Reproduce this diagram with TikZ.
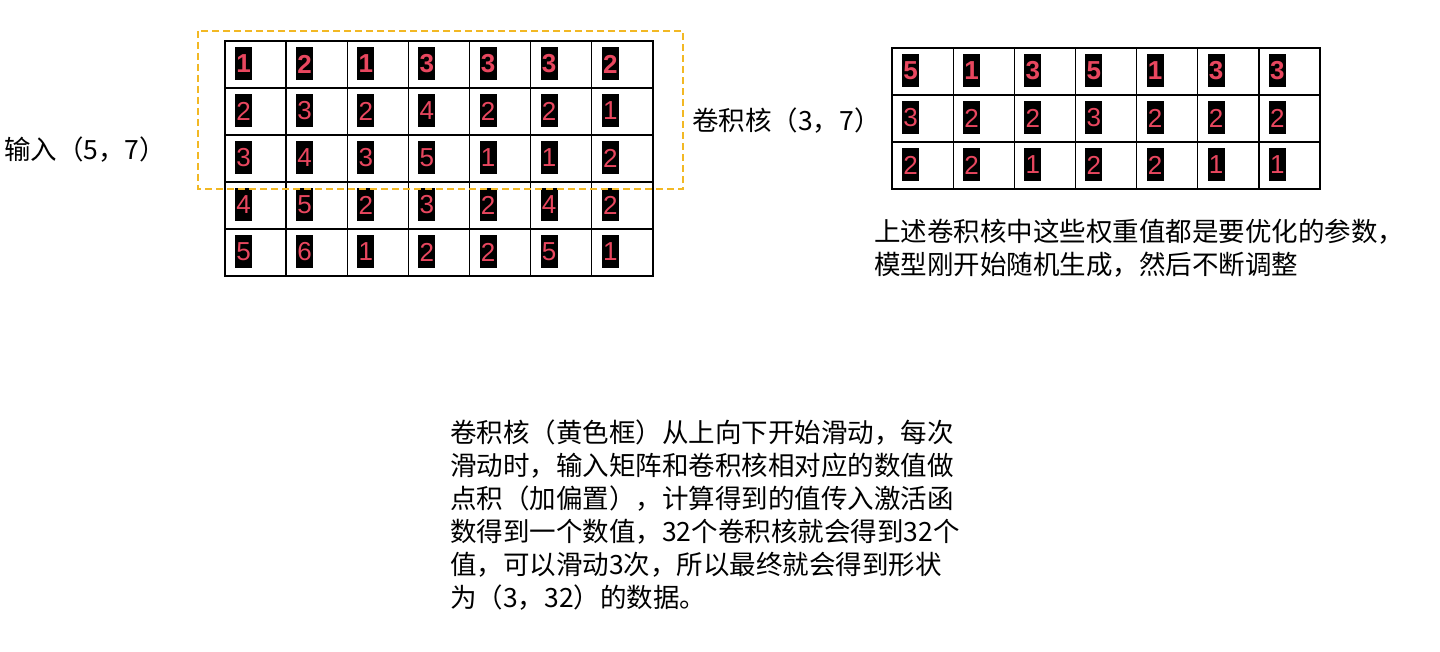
\documentclass[tikz,border=0pt]{standalone}
\usepackage{fontspec}
\setmainfont{Noto Sans CJK SC}
\newfontfamily\digitfont{Liberation Sans}
\definecolor{numred}{HTML}{E8475F}
\definecolor{ybox}{HTML}{F2B824}
\begin{document}
\begin{tikzpicture}[x=1pt,y=-1pt,
  cellbox/.style={draw=black,line width=1.3pt},
  numtag/.style={fill=black,minimum width=17pt,minimum height=33pt,inner sep=0pt,text=numred,font=\digitfont\fontsize{26}{26}\selectfont},
  boldtag/.style={numtag,font=\digitfont\bfseries\fontsize{26}{26}\selectfont},
  lbl/.style={anchor=west,inner sep=0pt,font=\fontsize{26.5}{33}\selectfont},
  para/.style={anchor=north west,inner sep=0pt,align=left,font=\fontsize{26.5}{33}\selectfont}]
\useasboundingbox[fill=white] (0,0) rectangle (1440,652);
% input matrix
\def\cw{61.14}
\foreach \row [count=\r from 0] in {{1,2,1,3,3,3,2},{2,3,2,4,2,2,1},{3,4,3,5,1,1,2},{4,5,2,3,2,4,2},{5,6,1,2,2,5,1}}{
  \foreach \v [count=\c from 0] in \row {
    \draw[cellbox] ({225+\c*\cw},{41+\r*47}) rectangle ({225+(\c+1)*\cw},{41+(\r+1)*47});
    \ifnum\r=0 \node[boldtag] (in-\r-\c) at ({243.5+\c*\cw},{64+\r*47}) {\v};
    \else \node[numtag] (in-\r-\c) at ({243.5+\c*\cw},{64+\r*47}) {\v}; \fi
  }
}
% kernel matrix
\foreach \row [count=\r from 0] in {{5,1,3,5,1,3,3},{3,2,2,3,2,2,2},{2,2,1,2,2,1,1}}{
  \foreach \v [count=\c from 0] in \row {
    \draw[cellbox] ({892+\c*\cw},{48+\r*47}) rectangle ({892+(\c+1)*\cw},{48+(\r+1)*47});
    \ifnum\r=0 \node[boldtag] (k-\r-\c) at ({910.5+\c*\cw},{71+\r*47}) {\v};
    \else \node[numtag] (k-\r-\c) at ({910.5+\c*\cw},{71+\r*47}) {\v}; \fi
  }
}
% yellow dashed window
\draw[ybox,line width=1.6pt,dash pattern=on 7pt off 4pt] (198,31) rectangle (683,189);
\node[lbl] (inlbl) at (4,150) {输入（5，7）};
\node[lbl] (klbl) at (692,121) {卷积核（3，7）};
\node[para] (p1) at (874,219) {上述卷积核中这些权重值都是要优化的参数，\\模型刚开始随机生成，然后不断调整};
\node[para] (p2) at (450,420) {卷积核（黄色框）从上向下开始滑动，每次\\滑动时，输入矩阵和卷积核相对应的数值做\\点积（加偏置），计算得到的值传入激活函\\数得到一个数值，32个卷积核就会得到32个\\值，可以滑动3次，所以最终就会得到形状\\为（3，32）的数据。};
\end{tikzpicture}
\end{document}
